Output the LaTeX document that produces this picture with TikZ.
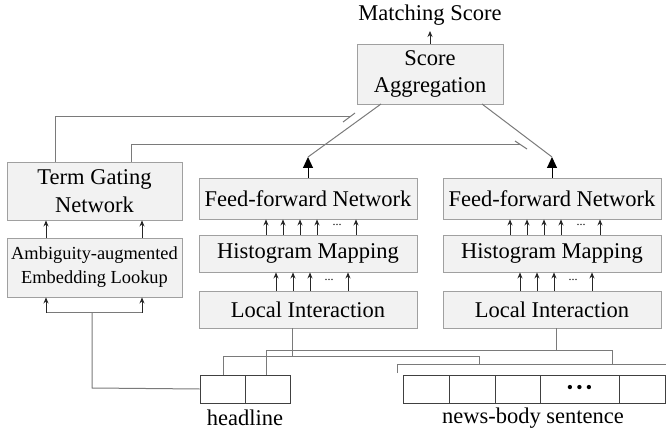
\documentclass[tikz,border=0pt]{standalone}
\usepackage{fontspec}
\setmainfont{Liberation Serif}
\usetikzlibrary{arrows.meta}
\definecolor{boxfill}{HTML}{F2F2F2}
\definecolor{boxline}{HTML}{A0A0A0}
\definecolor{conn}{HTML}{7A7A7A}
\definecolor{cellline}{HTML}{404040}
\tikzset{
  blk/.style={draw=boxline, fill=boxfill, line width=0.9pt, inner sep=0pt, align=center,
    font=\fontsize{22.5}{27.5}\selectfont},
  cell/.style={draw=cellline, fill=white, line width=0.9pt, minimum width=45pt, minimum height=28pt, inner sep=0pt},
  conline/.style={draw=conn, line width=1pt},
  sarr/.style={draw=black!85, line width=0.8pt, -{Stealth[length=6pt,width=5pt]}},
  barr/.style={draw=black, line width=1pt, -{Triangle[length=11pt,width=10pt]}},
  lbl/.style={inner sep=0pt, font=\fontsize{22.5}{27}\selectfont},
  dotlbl/.style={inner sep=0pt, font=\fontsize{12}{12}\selectfont}
}
\begin{document}
\begin{tikzpicture}[x=1pt,y=-1pt]
\useasboundingbox (0,0) rectangle (666,435);
% boxes
\node[blk, minimum width=146pt, minimum height=60pt] (SA) at (430,74) {Score\\Aggregation};
\node[lbl] (MS) at (430,15) {Matching Score};
\node[blk, minimum width=175pt, minimum height=58pt] (TG) at (94.5,191) {Term Gating\\Network};
\node[blk, minimum width=175pt, minimum height=59pt, font=\fontsize{18.4}{24}\selectfont] (AE) at (94.5,267.5) {Ambiguity-augmented\\Embedding Lookup};
\foreach \n/\cx in {1/308,2/552}{
  \node[blk, minimum width=218pt, minimum height=41pt] (FF\n) at (\cx,198.5) {Feed-forward Network};
  \node[blk, minimum width=218pt, minimum height=37pt] (HM\n) at (\cx,253.5) {Histogram Mapping};
  \node[blk, minimum width=218pt, minimum height=37pt] (LI\n) at (\cx,309.5) {Local Interaction};
}
% headline cells
\node[cell] (h1) at (222.5,389) {};
\node[cell] (h2) at (267.5,389) {};
\node[lbl] (hl) at (245,418) {headline};
% news cells
\node[cell, minimum width=46pt] (n1) at (426,389) {};
\node[cell, minimum width=46pt] (n2) at (472,389) {};
\node[cell, minimum width=45pt] (n3) at (517.5,389) {};
\node[cell, minimum width=79pt] (n4) at (579.5,389) {\fontsize{18}{18}\selectfont •\hspace{3.2pt}•\hspace{3.2pt}•};
\node[cell, minimum width=46pt] (n5) at (642,389) {};
\node[lbl] (nb) at (533,418) {news-body sentence};
% top arrow
\draw[sarr] (SA.north) -- (MS.south |- 0,31);
% diagonals to feed-forward arrows
\coordinate (t1) at (308,157);
\coordinate (t2) at (552,157);
\draw[conline] (381,104) -- (t1);
\draw[conline] (482,104) -- (t2);
\draw[barr] (FF1.north) -- (t1);
\draw[barr] (FF2.north) -- (t2);
% term gating outputs
\draw[conline] (TG.north -| 55,0) -- (55,117) -- (350,117);
\draw[conline] (343,122) -- (355,113);
\draw[conline] (TG.north -| 131,0) -- (131,145) -- (520,145);
\draw[conline] (515,141) -- (527,149);
% AE -> TG
\draw[sarr] (AE.north -| 46,0) -- (TG.south -| 46,0);
\draw[sarr] (AE.north -| 142,0) -- (TG.south -| 142,0);
% input to AE
\draw[conline] (46,313) -- (142,313);
\draw[sarr] (46,313) -- (AE.south -| 46,0);
\draw[sarr] (142,313) -- (AE.south -| 142,0);
\draw[conline] (92,313) -- (92,388) -- (h1.west);
% small arrows between layers
\foreach \n/\b in {1/199,2/443}{
  \foreach \o in {67,84,101,118,157}{
    \draw[sarr] (HM\n.north -| \b+\o,0) -- (FF\n.south -| \b+\o,0);
  }
  \node[dotlbl] (dA\n) at (\b+138,225) {...};
  \foreach \o in {77,94,111,149}{
    \draw[sarr] (LI\n.north -| \b+\o,0) -- (HM\n.south -| \b+\o,0);
  }
  \node[dotlbl] (dB\n) at (\b+130,280) {...};
}
% local interaction to inputs
\draw[conline] (LI1.south -| 292,0) -- (292,356);
\draw[conline] (LI2.south -| 556,0) -- (556,350);
\draw[conline] (h2.north -| 266,0) -- (266,350) -- (612,350) -- (612,364);
\draw[conline] (h1.north -| 223,0) -- (223,356) -- (479,356) -- (479,364);
\draw[conline] (397,373) -- (397,364) -- (666,364);
\end{tikzpicture}
\end{document}
